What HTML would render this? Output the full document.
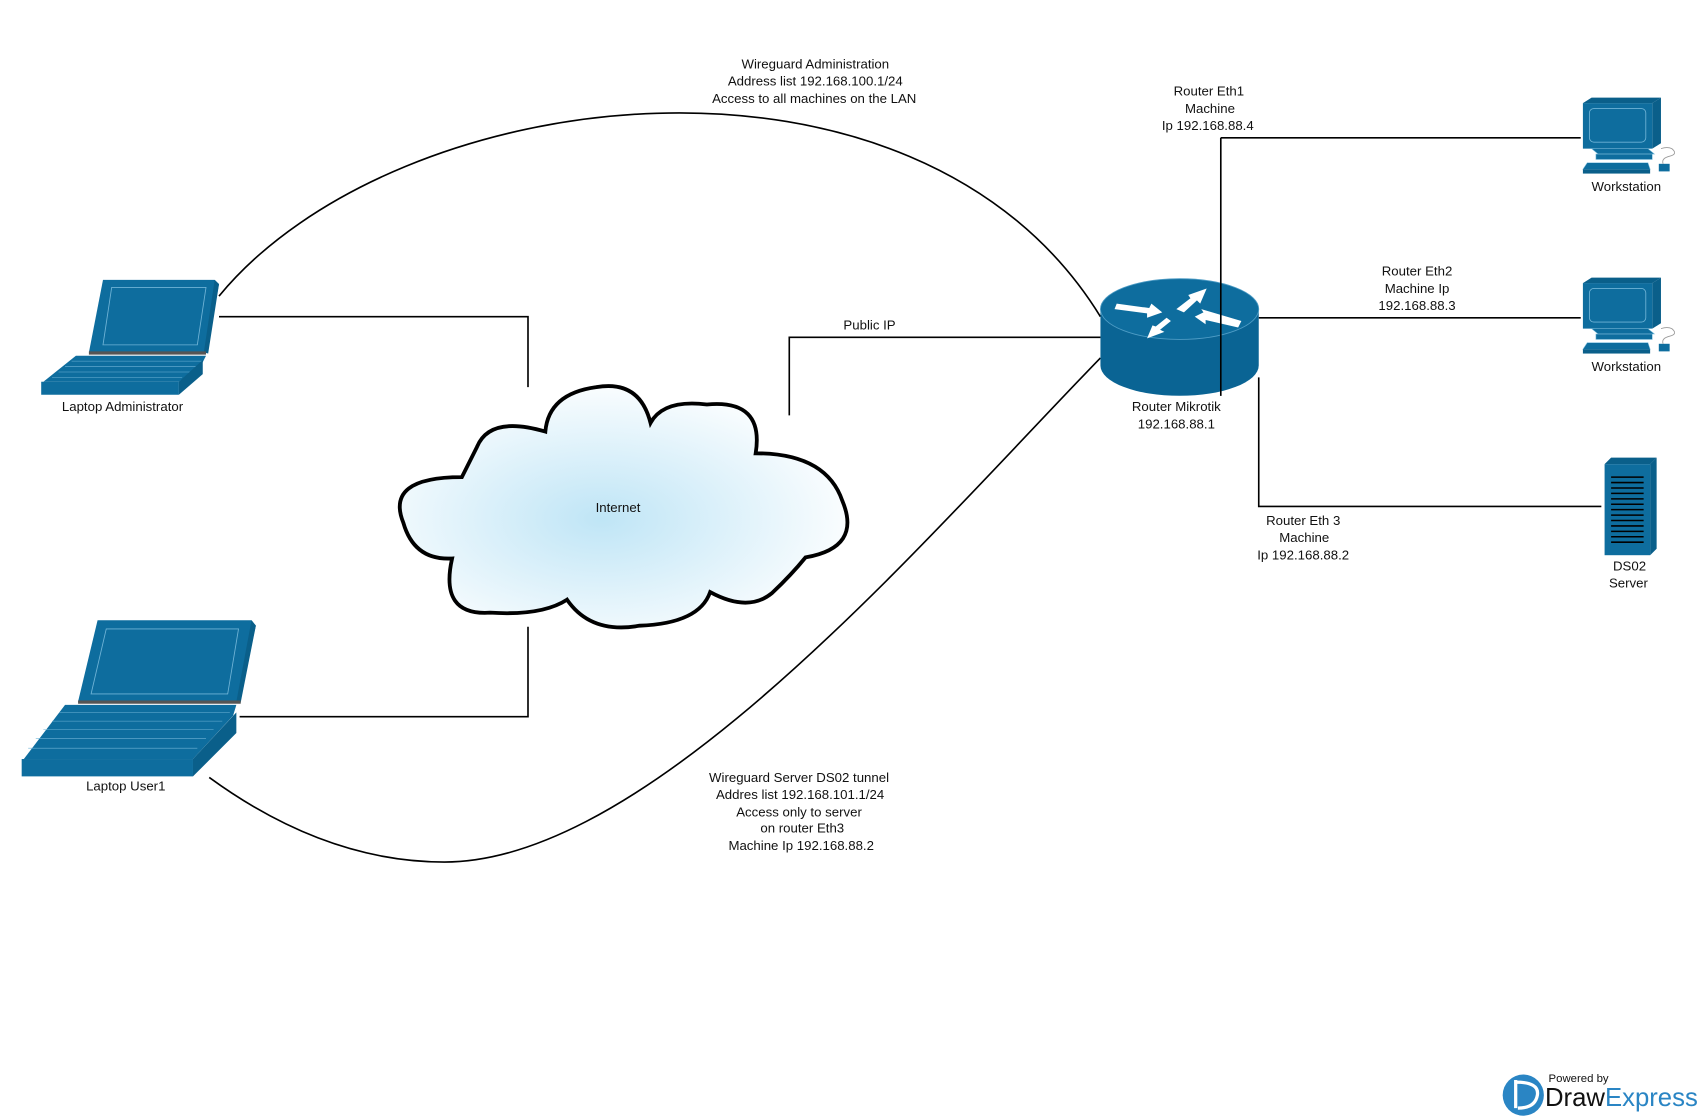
<!DOCTYPE html>
<html><head><meta charset="utf-8"><style>
html,body{margin:0;padding:0;background:#fff;}
svg{display:block;}
text{font-family:"Liberation Sans",sans-serif;font-size:12.2px;fill:#111;text-anchor:middle;}
</style></head><body>
<svg width="1700" height="1118" viewBox="0 0 1568 1031" xmlns="http://www.w3.org/2000/svg">
<defs>
<radialGradient id="cg" cx="0.45" cy="0.55" r="0.6">
<stop offset="0" stop-color="#bfe5f6"/><stop offset="1" stop-color="#ffffff"/>
</radialGradient>
<g id="ws">
 <polygon points="0,5 64,5 72,0 8,0" fill="#0a5f8a"/>
 <polygon points="64,5 72,0 72,42 64,47" fill="#0a5f8a"/>
 <rect x="0" y="5" width="64" height="42" fill="#0e6d9e"/>
 <rect x="6" y="10" width="52" height="31" rx="4" fill="none" stroke="#6fb3d6" stroke-width="0.8"/>
 <polygon points="8,47 60,47 66,52 14,52" fill="#0e6d9e" stroke="#7fbedd" stroke-width="0.5"/>
 <rect x="12" y="52" width="52" height="5" fill="#0e6d9e" stroke="#7fbedd" stroke-width="0.5"/>
 <polygon points="4,60 60,60 62,66 0,66" fill="#0e6d9e" stroke="#7fbedd" stroke-width="0.5"/>
 <rect x="0" y="66" width="62" height="4" fill="#0a5f8a"/>
 <rect x="70" y="61" width="10" height="7" fill="#0e6d9e"/>
 <path d="M74,61 Q72,56 80,54 Q88,52 82,47 Q78,45 72,47" fill="none" stroke="#999" stroke-width="0.8"/>
</g>
</defs>

<path d="M202,273 C365,75 845,15 1015,292" fill="none" stroke="#000" stroke-width="1.5"/>
<path d="M193,717 Q300,795 410,795 C600,795 850,500 1015,330" fill="none" stroke="#000" stroke-width="1.5"/>

<polyline points="202,292 487,292 487,357" fill="none" stroke="#000" stroke-width="1.5"/>
<polyline points="221,661 487,661 487,578" fill="none" stroke="#000" stroke-width="1.5"/>
<polyline points="728,383 728,311 1015,311" fill="none" stroke="#000" stroke-width="1.5"/>
<polyline points="1161,293 1458,293" fill="none" stroke="#000" stroke-width="1.5"/>
<polyline points="1161,348 1161,467 1477,467" fill="none" stroke="#000" stroke-width="1.5"/>

<path d="M426,440 Q355,440 372,482 Q382,517 417,515 Q405,568 452,565 Q500,568 523,553 Q545,585 590,577 Q645,575 655,546 Q690,565 712,547 Q730,530 743,514 Q795,505 777,462 Q762,418 697,418 Q705,368 652,373 Q612,368 600,390 Q590,350 550,357 Q506,363 503,398 Q452,383 440,412 Q432,428 426,440 Z" fill="url(#cg)" stroke="#000" stroke-width="3.5"/>
<text x="570" y="472">Internet</text>

<g>
 <polygon points="95,258 198,258 202,262 190,325 82,325" fill="#0e6d9e"/>
 <polygon points="198,258 202,262 192,326 188,325" fill="#0a5f8a"/>
 <polygon points="103,265 190,265 182,318 95,318" fill="none" stroke="#6fb3d6" stroke-width="0.8"/>
 <rect x="82" y="324" width="108" height="3" fill="#555"/>
 <polygon points="70,328 190,328 185,338 165,352 40,352" fill="#0e6d9e"/>
 <g stroke="#6fb3d6" stroke-width="0.5">
  <line x1="66" y1="333" x2="186" y2="333"/><line x1="60" y1="338" x2="181" y2="338"/><line x1="54" y1="343" x2="175" y2="343"/><line x1="48" y1="348" x2="168" y2="348"/>
 </g>
 <rect x="38" y="352" width="127" height="12" fill="#0e6d9e"/>
 <polygon points="165,352 187,332 187,345 165,364" fill="#0a5f8a"/>
</g>
<text x="113" y="379">Laptop Administrator</text>

<g>
 <polygon points="90,572 232,572 236,577 220,647 72,647" fill="#0e6d9e"/>
 <polygon points="232,572 236,577 222,648 218,647" fill="#0a5f8a"/>
 <polygon points="98,580 220,580 210,640 84,640" fill="none" stroke="#6fb3d6" stroke-width="0.8"/>
 <rect x="72" y="646" width="150" height="3" fill="#555"/>
 <polygon points="60,650 218,650 215,660 178,700 22,700" fill="#0e6d9e"/>
 <g stroke="#6fb3d6" stroke-width="0.5">
  <line x1="55" y1="657" x2="212" y2="657"/><line x1="48" y1="665" x2="205" y2="665"/><line x1="40" y1="673" x2="197" y2="673"/><line x1="33" y1="681" x2="190" y2="681"/><line x1="26" y1="690" x2="182" y2="690"/>
 </g>
 <rect x="20" y="700" width="158" height="16" fill="#0e6d9e"/>
 <polygon points="178,700 218,657 218,676 178,716" fill="#0a5f8a"/>
</g>
<text x="116" y="729">Laptop User1</text>

<g>
 <path d="M1015,285 L1015,337 A73,28 0 0 0 1161,337 L1161,285 Z" fill="#0a6494"/>
 <ellipse cx="1088" cy="285" rx="73" ry="28" fill="#0e6d9e" stroke="#4e9cc5" stroke-width="0.8"/>
 <g fill="#fff">
  <polygon points="1030,280 1060,284 1062,280 1072,288 1058,293 1058,289 1028,285"/>
  <polygon points="1085,285 1098,275 1096,272 1113,266 1107,280 1104,277 1092,288"/>
  <polygon points="1102,292 1110,288 1108,285 1145,296 1142,302 1112,295 1112,299"/>
  <polygon points="1080,296 1070,304 1074,306 1058,312 1063,300 1066,301 1076,293"/>
 </g>
</g>
<line x1="1126" y1="365" x2="1126" y2="127" stroke="#000" stroke-width="1.5"/>
<line x1="1126" y1="127" x2="1458" y2="127" stroke="#000" stroke-width="1.5"/>
<text x="1085" y="379">Router Mikrotik</text>
<text x="1085" y="395">192.168.88.1</text>

<use href="#ws" x="1460" y="90"/>
<text x="1500" y="176">Workstation</text>
<use href="#ws" x="1460" y="256"/>
<text x="1500" y="342">Workstation</text>

<g>
 <polygon points="1480,428 1522,428 1528,422 1486,422" fill="#0a5f8a"/>
 <polygon points="1522,428 1528,422 1528,506 1522,512" fill="#0a5f8a"/>
 <rect x="1480" y="428" width="42" height="84" fill="#0e6d9e"/>
 <g stroke="#000" stroke-width="1.4">
  <line x1="1486" y1="440" x2="1516" y2="440"/><line x1="1486" y1="445" x2="1516" y2="445"/><line x1="1486" y1="450" x2="1516" y2="450"/><line x1="1486" y1="455" x2="1516" y2="455"/><line x1="1486" y1="460" x2="1516" y2="460"/><line x1="1486" y1="465" x2="1516" y2="465"/><line x1="1486" y1="470" x2="1516" y2="470"/><line x1="1486" y1="475" x2="1516" y2="475"/><line x1="1486" y1="480" x2="1516" y2="480"/><line x1="1486" y1="485" x2="1516" y2="485"/><line x1="1486" y1="490" x2="1516" y2="490"/><line x1="1486" y1="495" x2="1516" y2="495"/><line x1="1486" y1="500" x2="1516" y2="500"/>
 </g>
</g>
<text x="1503" y="526">DS02</text>
<text x="1502" y="542">Server</text>

<text x="752" y="63">Wireguard Administration</text>
<text x="752" y="79">Address list 192.168.100.1/24</text>
<text x="751" y="95">Access to all machines on the LAN</text>
<text x="802" y="304">Public IP</text>
<text x="1115" y="88">Router Eth1</text>
<text x="1116" y="104">Machine</text>
<text x="1114" y="120">Ip 192.168.88.4</text>
<text x="1307" y="254">Router Eth2</text>
<text x="1307" y="270">Machine Ip</text>
<text x="1307" y="286">192.168.88.3</text>
<text x="1202" y="484">Router Eth 3</text>
<text x="1203" y="500">Machine</text>
<text x="1202" y="516">Ip 192.168.88.2</text>
<text x="737" y="721">Wireguard Server DS02 tunnel</text>
<text x="738" y="737">Addres list 192.168.101.1/24</text>
<text x="737" y="753">Access only to server</text>
<text x="740" y="768">on router Eth3</text>
<text x="739" y="784">Machine Ip 192.168.88.2</text>

<circle cx="1405" cy="1010" r="19" fill="#2a85c4"/>
<path d="M1398,996 L1398,1022 M1398,998 Q1420,998 1418,1010 Q1416,1022 1400,1022" fill="none" stroke="#fff" stroke-width="3"/>
<text x="1456" y="998" style="font-size:10.5px;">Powered by</text>
<text x="1425" y="1020" textLength="141" lengthAdjust="spacingAndGlyphs" style="font-size:24px;text-anchor:start;"><tspan fill="#111">Draw</tspan><tspan fill="#2a85c4">Express</tspan></text>
</svg>
</body></html>
